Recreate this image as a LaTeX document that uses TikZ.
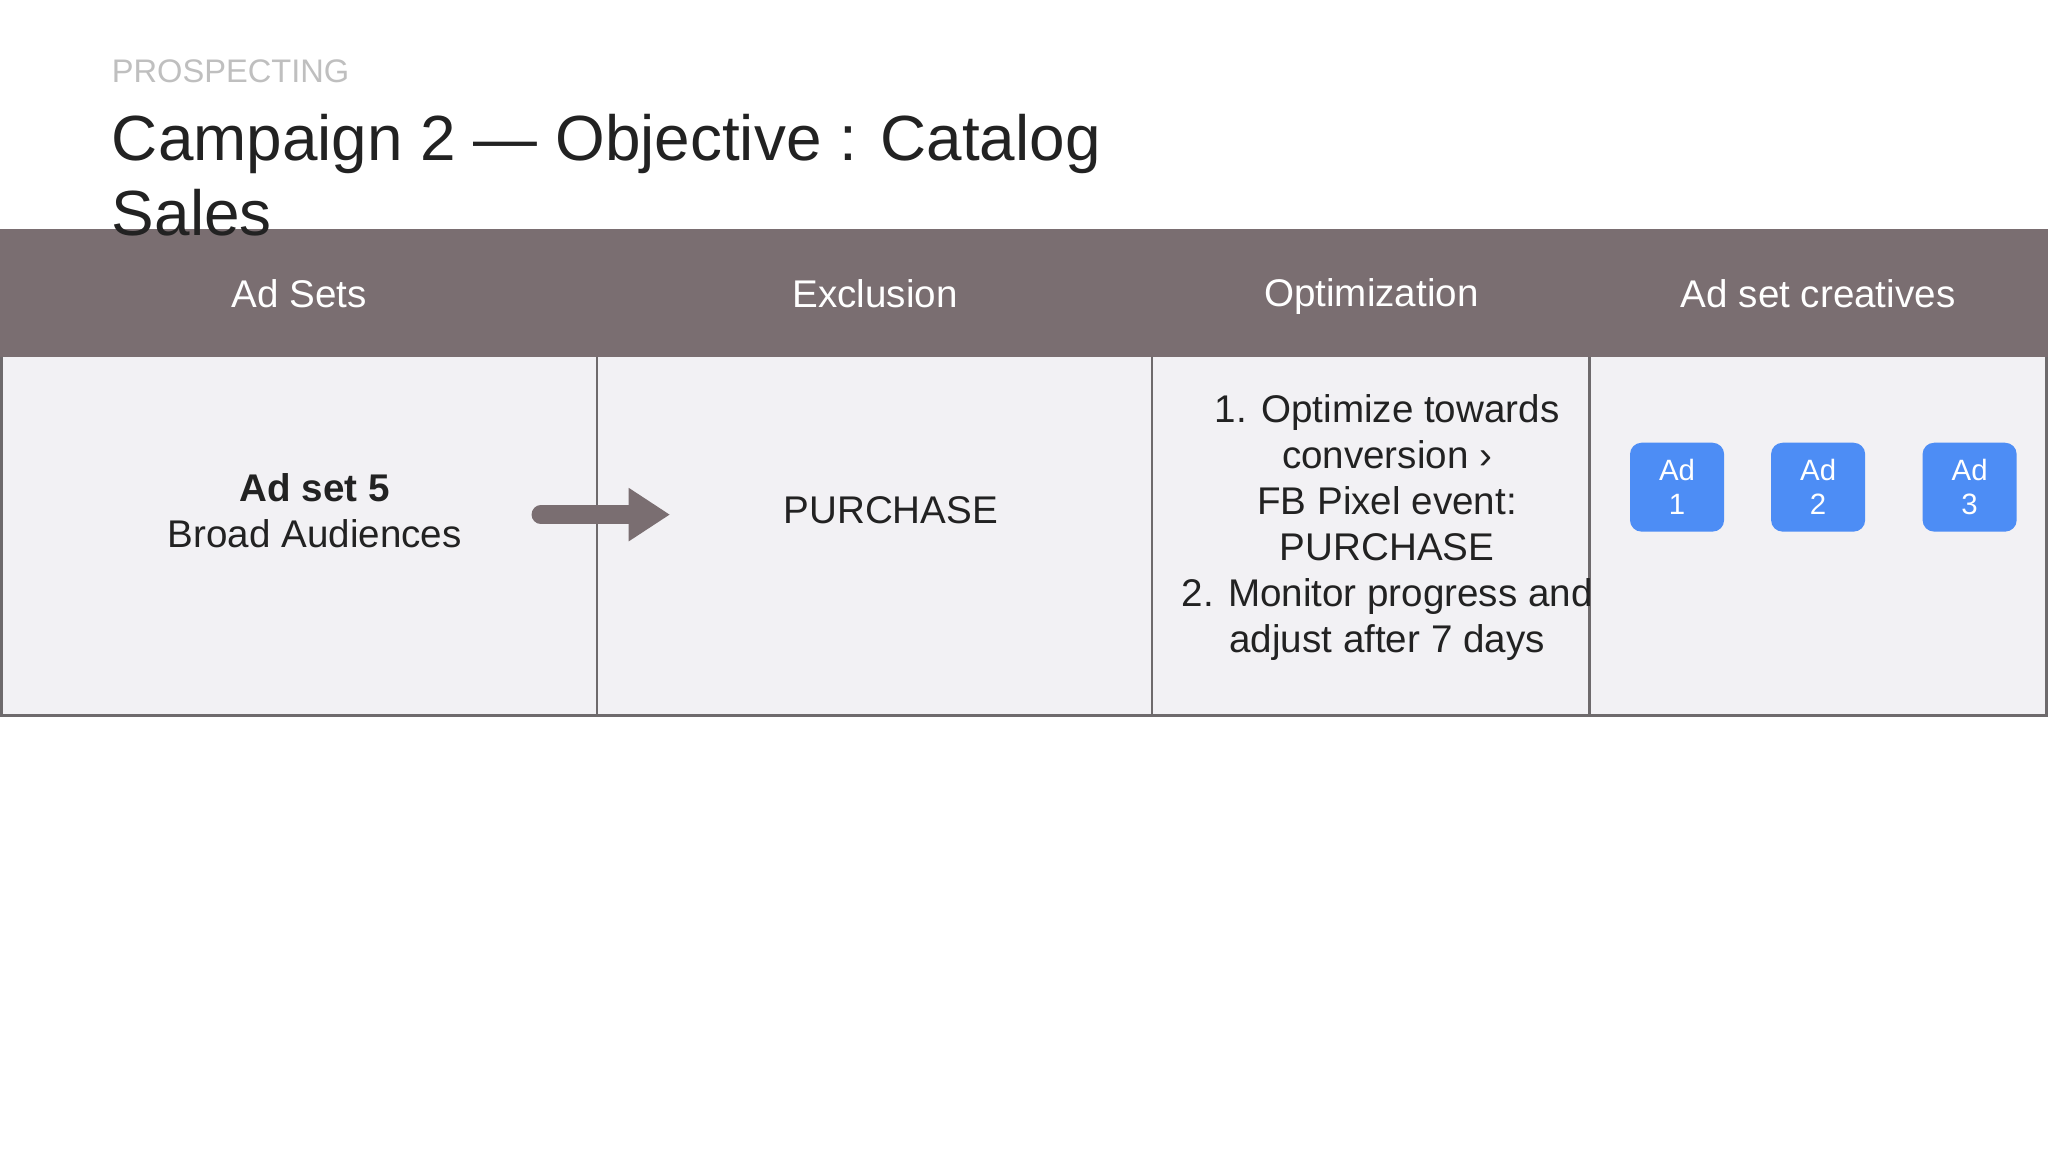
\documentclass[tikz,border=0pt]{standalone}
\usepackage{fontspec}
\setmainfont{Liberation Sans}
\usetikzlibrary{arrows.meta}
\definecolor{band}{HTML}{7A6E71}
\definecolor{cellbg}{HTML}{F2F1F4}
\definecolor{grid}{HTML}{6E6A6C}
\definecolor{adblue}{HTML}{4D8DF5}
\definecolor{ttl}{HTML}{222222}
\tikzset{
  hdr/.style={text=white,font=\fontsize{8.4}{10}\selectfont},
  body/.style={text=ttl,font=\fontsize{8.4}{10}\selectfont,align=center},
  adbtn/.style={fill=adblue,rounded corners=2.5pt,text=white,font=\fontsize{6.4}{7.4}\selectfont,align=center,minimum width=0.72cm,minimum height=0.68cm,inner sep=0pt}
}
\begin{document}
\begin{tikzpicture}[x=0.01cm,y=-0.01cm]
\useasboundingbox[fill=white] (0,0) rectangle (1568,882);
\fill[cellbg] (0,273) rectangle (1567,548);
\fill[band] (0,175) rectangle (1568,273);
\draw[grid,line width=0.6pt] (1,273) -- (1,548) -- (1567,548) -- (1567,273);
\draw[grid,line width=0.6pt] (457,273) -- (457,548) (882,273) -- (882,548) (1217,273) -- (1217,548);
\node[anchor=base west,inner sep=0pt,text=black!25,font=\fontsize{7.1}{8}\selectfont] (pro) at (85,63) {PROSPECTING};
\node[anchor=base west,inner sep=0pt,text=ttl,font=\fontsize{13.9}{16}\selectfont] (t1) at (85,123) {Campaign 2 — Objective : Catalog};
\node[anchor=base west,inner sep=0pt,text=ttl,font=\fontsize{13.9}{16}\selectfont] (t2) at (85,180) {Sales};
\node[hdr] (h1) at (229,225) {Ad Sets};
\node[hdr] (h2) at (670,225) {Exclusion};
\node[hdr,anchor=base] (h3) at (1050,235) {Optimization};
\node[hdr] (h4) at (1392,225) {Ad set creatives};
\node[body] (a5) at (241,391) {\textbf{Ad set 5}\\Broad Audiences};
\node[body] (ex) at (682,391) {PURCHASE};
\node[body] (op) at (1062,404) {1. Optimize towards\\conversion ›\\FB Pixel event:\\PURCHASE\\2. Monitor progress and\\adjust after 7 days};
\coordinate (as) at (414,394);
\coordinate (ae) at (513,394);
\draw[band,line width=4pt,line cap=round,-{Triangle[length=9pt,width=11pt]}] (as) -- (ae);
\node[adbtn] (ad1) at (1284,373) {Ad\\1};
\node[adbtn] (ad2) at (1392,373) {Ad\\2};
\node[adbtn] (ad3) at (1508,373) {Ad\\3};
\end{tikzpicture}
\end{document}
